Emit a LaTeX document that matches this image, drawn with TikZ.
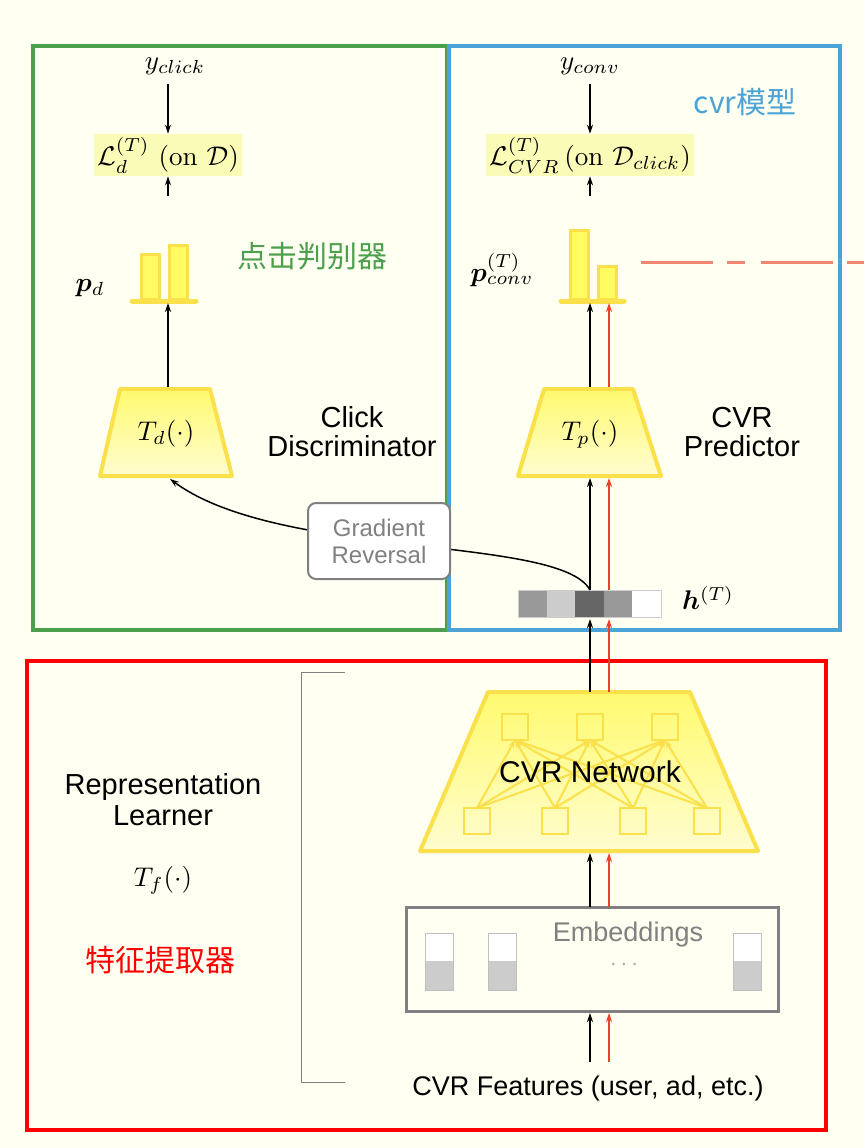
\documentclass[tikz,border=0pt]{standalone}
\usepackage{fontspec}
\usepackage{amsmath,bm,graphicx}
\setsansfont{Liberation Sans}
\newfontfamily\cjk{Noto Sans CJK SC}
\newcommand{\MyM}[1]{\scalebox{2.7}{$#1$}}
\usetikzlibrary{arrows.meta}
\definecolor{bgc}{HTML}{FFFFF2}
\definecolor{yel}{HTML}{FAE04A}
\definecolor{yfill}{HTML}{FFF98A}
\definecolor{hl}{HTML}{FBFBB8}
\definecolor{gbox}{HTML}{4CA04C}
\definecolor{bbox}{HTML}{4BA3D6}
\definecolor{rarr}{HTML}{E8432A}
\definecolor{salmon}{HTML}{EE8570}
\begin{document}
\begin{tikzpicture}[x=1pt,y=-1pt,
  sf/.style={font=\sffamily\fontsize{29}{33}\selectfont,align=center},
  mt/.style={inner sep=2pt},
  ar/.style={-{Stealth[length=9pt,width=6pt]},line width=1.5pt},
  rar/.style={ar,rarr,line width=2.2pt},
  trap/.style={draw=yel,line width=4pt,line join=round,top color=yfill!80!yellow,bottom color=yfill!40!white},
  sq/.style={draw=yel,line width=2pt},
  bar/.style={draw=yel,line width=3pt,fill=yfill!70!yellow}]
\fill[bgc] (0,0) rectangle (864,1148);
\useasboundingbox (0,0) rectangle (864,1148);
% frames
\draw[gbox,line width=4pt] (33,46) rectangle (447,630);
\draw[bbox,line width=4pt] (449,46) rectangle (840,630);
\draw[red,line width=4pt] (27,661) rectangle (826,1130);
% top labels
\node[mt] (yc) at (175,66) {\MyM{y_{click}}};
\node[mt,fill=hl,inner sep=3pt] (ld) at (168,155) {\MyM{\mathcal{L}_d^{(T)}\ (\text{on}\ \mathcal{D})}};
\node[mt] (yv) at (590,66) {\MyM{y_{conv}}};
\node[mt,fill=hl,inner sep=3pt] (lc) at (590,155) {\MyM{\mathcal{L}_{CVR}^{(T)}\,(\text{on}\ \mathcal{D}_{click})}};
\node[font=\cjk\fontsize{30}{34}\selectfont,text=bbox] (cvr) at (745,102) {cvr模型};
\node[font=\cjk\fontsize{30}{34}\selectfont,text=gbox] (dj) at (312,256) {点击判别器};
% bars
\draw[bar] (141,254) rectangle (159,299);
\draw[bar] (169,245) rectangle (187,299);
\draw[yel,line width=5pt,line cap=round] (132,301) -- (196,301);
\draw[bar] (570,230) rectangle (588,299);
\draw[bar] (598,266) rectangle (616,299);
\draw[yel,line width=5pt,line cap=round] (561,301) -- (624,301);
\coordinate (pdt) at (168,196); \coordinate (pdb) at (168,303);
\coordinate (pct) at (590,196); \coordinate (pcb) at (590,303);
\coordinate (yct) at (168,84); \coordinate (yvt) at (590,84);
\node[mt] (pd) at (90,288) {\MyM{\bm{p}_d}};
\node[mt] (pc) at (502,270) {\MyM{\bm{p}_{conv}^{(T)}}};
\draw[salmon,line width=3pt,dash pattern=on 72pt off 14pt on 18pt off 16pt] (641,262) -- (864,262);
% arrows top
\draw[ar] (yct) -- (ld);
\draw[ar] (yvt) -- (lc);
\draw[ar] (pdt) -- (ld);
\draw[ar] (pct) -- (lc);
% trapezoids
\draw[trap] (120,389) -- (210,389) -- (232,476) -- (100,476) -- cycle;
\node[mt] (td) at (166,434) {\MyM{T_d(\cdot)}};
\draw[trap] (544,389) -- (633,389) -- (661,476) -- (518,476) -- cycle;
\node[mt] (tp) at (590,434) {\MyM{T_p(\cdot)}};
\node[sf] (cd) at (352,432) {Click\\[-4pt]Discriminator};
\node[sf] (cp) at (742,432) {CVR\\[-4pt]Predictor};
\draw[ar] (168,387) -- (pdb);
\draw[ar] (590,387) -- (pcb);
\draw[rar] (609,387) -- (609,303);
% h vector
\foreach \i/\c in {0/40,1/20,2/60,3/40,4/0}
  \fill[black!\c] ({518+\i*28.6},590) rectangle ({518+(\i+1)*28.6},617);
\draw[gray!40,line width=1pt] (518,590) rectangle (661,617);
\node[mt] (h) at (708,598) {\MyM{\bm{h}^{(T)}}};
\coordinate (ht) at (590,590);
\draw[ar] (ht) -- (590,478);
\draw[rar] (609,590) -- (609,478);
\draw[ar] (ht) .. controls (560,535) and (280,560) .. (170,479);
\node[sf,draw=gray,line width=2pt,rounded corners=8pt,fill=white,text=gray,font=\sffamily\fontsize{24}{27}\selectfont,minimum width=142pt,minimum height=76pt,inner sep=2pt] (gr) at (379,541) {Gradient\\Reversal};
% network
\draw[trap] (488,692) -- (690,692) -- (758,851) -- (420,851) -- cycle;
\foreach \t in {515,590,665} \foreach \b in {477,555,633,707}
  \draw[yel,line width=2pt,-{Stealth[length=8pt]}] (\b,808) -- (\t,740);
\foreach \t in {515,590,665} \draw[sq] (\t-13,714) rectangle (\t+13,740);
\foreach \b in {477,555,633,707} \draw[sq] (\b-13,808) rectangle (\b+13,834);
\node[sf,font=\sffamily\fontsize{30}{34}\selectfont] (net) at (590,772) {CVR Network};
\draw[ar] (590,692) -- (590,619);
\draw[rar] (609,692) -- (609,619);
% embeddings
\draw[gray,line width=3pt] (406,907) rectangle (778,1011);
\foreach \x in {439,502,747} {
  \fill[white] (\x-14,933) rectangle (\x+14,961);
  \fill[gray!40] (\x-14,961) rectangle (\x+14,990);
  \draw[gray!50,line width=0.8pt] (\x-14,933) rectangle (\x+14,990);}
\node[sf,text=gray,font=\sffamily\fontsize{27}{30}\selectfont] (emb) at (628,935) {Embeddings};
\node[text=gray!70] (dots) at (626,965) {\scalebox{2.4}{$\cdots$}};
\draw[ar] (590,907) -- (590,853);
\draw[rar] (609,907) -- (609,853);
\node[sf,font=\sffamily\fontsize{27}{30}\selectfont] (feat) at (588,1088) {CVR Features (user, ad, etc.)};
\draw[ar] (590,1062) -- (590,1013);
\draw[rar] (609,1062) -- (609,1013);
% left
\node[sf] (rl) at (163,800) {Representation\\[-2pt]Learner};
\node[mt] (tf) at (163,880) {\MyM{T_f(\cdot)}};
\node[font=\cjk\fontsize{30}{34}\selectfont,text=red] (tq) at (160,960) {特征提取器};
\draw[gray,line width=0.8pt] (345,672) -- (301,672) -- (301,1082) -- (345,1082);
\end{tikzpicture}
\end{document}
